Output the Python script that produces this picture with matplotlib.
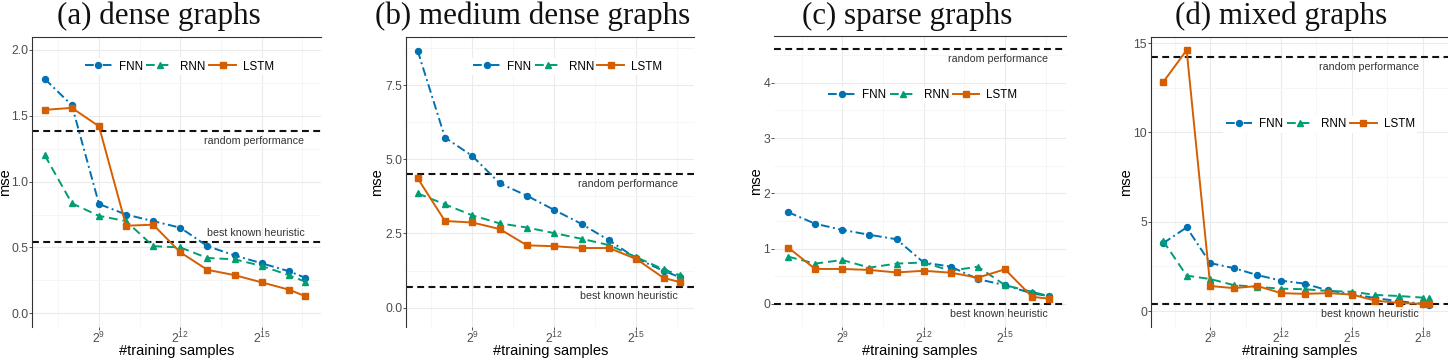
import numpy as np
import matplotlib
matplotlib.use("Agg")
import matplotlib.pyplot as plt
from matplotlib.lines import Line2D

plt.rcParams['font.family'] = ['Liberation Sans', 'DejaVu Sans']
plt.rcParams['mathtext.fontset'] = 'custom'
plt.rcParams['mathtext.rm'] = 'Liberation Sans'

# x values (number of training samples)
samples_abc = [128, 256, 512, 1024, 2048, 4096, 8192, 16384, 32768, 65536, 100000]
samples_d = [128, 256, 512, 1024, 2048, 4096, 8192, 16384, 32768, 65536, 131072, 262144, 320000]

# (a) dense graphs
fnn_a = [1.78, 1.58, 0.83, 0.75, 0.70, 0.65, 0.51, 0.44, 0.38, 0.32, 0.27]
rnn_a = [1.20, 0.835, 0.74, 0.70, 0.51, 0.50, 0.42, 0.41, 0.36, 0.29, 0.24]
lstm_a = [1.545, 1.56, 1.42, 0.665, 0.673, 0.463, 0.33, 0.29, 0.235, 0.18, 0.13]
random_a, heuristic_a = 1.385, 0.542

# (b) medium dense graphs
fnn_b = [8.66, 5.73, 5.11, 4.19, 3.77, 3.29, 2.82, 2.27, 1.66, 1.24, 1.02]
rnn_b = [3.85, 3.48, 3.11, 2.84, 2.70, 2.51, 2.32, 2.11, 1.70, 1.29, 1.09]
lstm_b = [4.36, 2.92, 2.87, 2.65, 2.10, 2.07, 2.01, 2.01, 1.64, 1.00, 0.86]
random_b, heuristic_b = 4.50, 0.71

# (c) sparse graphs
fnn_c = [1.66, 1.45, 1.34, 1.25, 1.17, 0.75, 0.675, 0.45, 0.34, 0.19, 0.145]
rnn_c = [0.856, 0.73, 0.795, 0.657, 0.73, 0.75, 0.60, 0.675, 0.34, 0.22, 0.145]
lstm_c = [1.02, 0.633, 0.633, 0.615, 0.57, 0.60, 0.566, 0.476, 0.627, 0.13, 0.096]
random_c, heuristic_c = 4.60, 0.0

# (d) mixed graphs
fnn_d = [3.79, 4.68, 2.68, 2.40, 2.01, 1.70, 1.53, 1.15, 0.95, 0.72, 0.55, 0.40, 0.35]
rnn_d = [3.93, 1.98, 1.79, 1.45, 1.35, 1.25, 1.22, 1.12, 1.08, 0.90, 0.84, 0.75, 0.74]
lstm_d = [12.8, 14.6, 1.40, 1.28, 1.40, 1.00, 0.96, 1.00, 0.92, 0.58, 0.45, 0.40, 0.38]
random_d, heuristic_d = 14.2, 0.39

titles = ['(a) dense graphs', '(b) medium dense graphs', '(c) sparse graphs', '(d) mixed graphs']
model_names = ['FNN', 'RNN', 'LSTM']
colors = ['#0072B2', '#009E73', '#D55E00']

W, H = 1448, 362
fig = plt.figure(figsize=(W / 100, H / 100), dpi=100)

# layout in pixels: left, top, right, bottom of each panel
panels = [
    dict(box=(32.3, 37.3, 321.0, 327), samples=samples_abc, data=(fnn_a, rnn_a, lstm_a),
         rand=random_a, heur=heuristic_a, ylim=(-0.104, 2.096), yticks=[0, 0.5, 1.0, 1.5, 2.0],
         ylabels=['0.0', '0.5', '1.0', '1.5', '2.0'], xlim=(6.54, 17.19), xticks=[9, 12, 15],
         leg=(0.51, 0.899), heur_above=True, txt_x=16.58, ylab_px=27, title_x=159, left_spine=True),
    dict(box=(406.3, 37.3, 694.3, 327), samples=samples_abc, data=(fnn_b, rnn_b, lstm_b),
         rand=random_b, heur=heuristic_b, ylim=(-0.65, 9.107), yticks=[0, 2.5, 5.0, 7.5],
         ylabels=['0.0', '2.5', '5.0', '7.5'], xlim=(6.585, 17.12), xticks=[9, 12, 15],
         leg=(0.561, 0.899), heur_above=False, txt_x=16.53, ylab_px=29, title_x=533, left_spine=True),
    dict(box=(774.0, 35.7, 1065.7, 327), samples=samples_abc, data=(fnn_c, rnn_c, lstm_c),
         rand=random_c, heur=heuristic_c, ylim=(-0.416, 4.849), yticks=[0, 1, 2, 3, 4],
         ylabels=['0', '1', '2', '3', '4'], xlim=(6.48, 17.24), xticks=[9, 12, 15],
         leg=(0.511, 0.796), heur_above=False, txt_x=16.59, ylab_px=18, title_x=907, left_spine=False),
    dict(box=(1151.0, 37.3, 1447.7, 327), samples=samples_d, data=(fnn_d, rnn_d, lstm_d),
         rand=random_d, heur=heuristic_d, ylim=(-0.895, 15.32), yticks=[0, 5, 10, 15],
         ylabels=['0', '5', '10', '15'], xlim=(6.49, 19.06), xticks=[9, 12, 15, 18],
         leg=(0.570, 0.70), heur_above=False, txt_x=17.84, ylab_px=25, title_x=1281, left_spine=True),
]

styles = [
    dict(ls=(0, (4.5, 1.8, 1.0, 1.8)), marker='o', ms=4.3),
    dict(ls=(0, (4.5, 2.5)), marker='^', ms=4.8),
    dict(ls='-', marker='s', ms=4.6),
]

for i, p in enumerate(panels):
    l, t, r, b = p['box']
    ax = fig.add_axes([l / W, (H - b) / H, (r - l) / W, (b - t) / H])
    x = np.log2(p['samples'])

    # grid
    yt = p['yticks']
    step = yt[1] - yt[0]
    ax.set_yticks(yt)
    ax.set_yticklabels(p['ylabels'])
    ax.set_yticks([v + step / 2 for v in [yt[0] - step] + yt], minor=True)
    xt = p['xticks']
    ax.set_xticks(xt)
    ax.set_xticklabels([r'$\mathregular{2^{%d}}$' % k for k in xt])
    ax.set_xticks([k - 1.5 for k in xt] + [xt[-1] + 1.5], minor=True)
    ax.grid(which='major', color='#EBEBEB', lw=0.8)
    ax.grid(which='minor', color='#F5F5F5', lw=0.6)
    ax.set_axisbelow(True)

    # reference lines
    for yv in (p['rand'], p['heur']):
        ax.axhline(yv, color='#111111', lw=1.5, ls=(0, (3.3, 2.1)), zorder=2)
    ax.annotate('random performance', (p['txt_x'], p['rand']), xytext=(0, -7),
                textcoords='offset points', ha='right', va='center', fontsize=7.7, color='#333333')
    off = 6.5 if p['heur_above'] else -7
    ax.annotate('best known heuristic', (p['txt_x'], p['heur']), xytext=(0, off),
                textcoords='offset points', ha='right', va='center', fontsize=7.7, color='#333333')

    handles = []
    for name, col, st, vals in zip(model_names, colors, styles, p['data']):
        ax.plot(x, vals, color=col, lw=1.4, ls=st['ls'], marker=st['marker'], ms=st['ms'],
                zorder=3)
        handles.append(Line2D([], [], color=col, lw=1.4, ls=st['ls'], marker=st['marker'],
                              ms=st['ms']))
    leg = ax.legend(handles, model_names, loc='center', bbox_to_anchor=p['leg'], ncol=3,
                    frameon=True, fontsize=8.4, handlelength=2.3, handletextpad=0.6,
                    columnspacing=0.3, borderpad=0.2, fancybox=False)
    leg.get_frame().set_facecolor('white')
    leg.get_frame().set_edgecolor('none')
    leg.get_frame().set_alpha(1)

    ax.set_xlim(p['xlim'])
    ax.set_ylim(p['ylim'])

    for s in ('right', 'bottom'):
        ax.spines[s].set_visible(False)
    ax.spines['top'].set_color('#333333')
    ax.spines['top'].set_linewidth(0.8)
    ax.spines['left'].set_color('#333333')
    ax.spines['left'].set_linewidth(0.8)
    ax.spines['left'].set_visible(p['left_spine'])

    ax.tick_params(which='major', length=2.2, width=0.6, color='#333333',
                   labelsize=8.8, labelcolor='#4D4D4D', pad=0.6)
    ax.tick_params(which='minor', length=0)

    ax.set_xlabel('#training samples', fontsize=10.5, va='top')
    ax.xaxis.set_label_coords(0.5, -(344.5 - b) / (b - t))
    ax.set_ylabel('mse', fontsize=10.5)
    ax.yaxis.set_label_coords(-p['ylab_px'] / (r - l), 0.5)
    ax.yaxis.label.set_va('center')

    fig.text(p['title_x'] / W, 1 - 24 / H, titles[i], family='Liberation Serif',
             fontsize=22.3, ha='center', va='baseline', color='#111111')

fig.savefig('out.png', dpi=100)
